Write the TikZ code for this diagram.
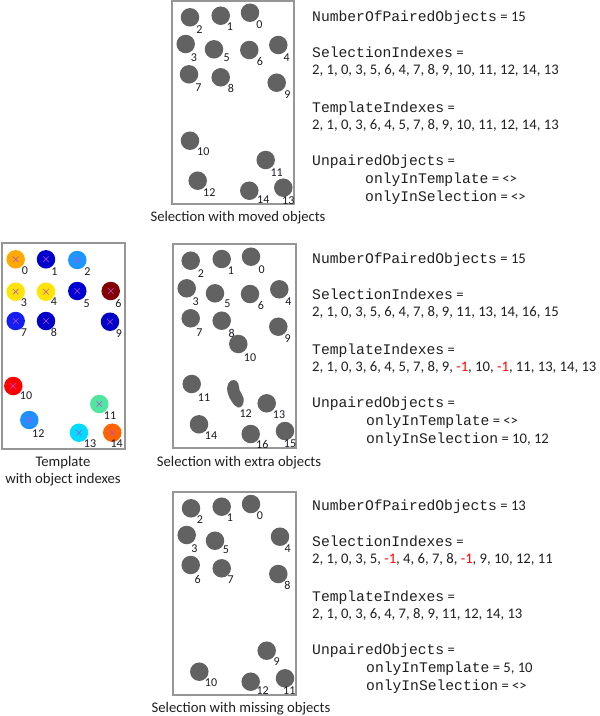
\documentclass[tikz,border=0pt]{standalone}
\usepackage{fontspec}
\setmainfont{Carlito}
\newfontfamily\monof{Liberation Mono}
\usetikzlibrary{shapes.misc}
\definecolor{objgray}{RGB}{98,98,98}
\definecolor{boxgray}{RGB}{150,150,150}
\definecolor{lblcol}{RGB}{25,25,35}
\definecolor{xmarkc}{RGB}{185,75,215}
\definecolor{c0}{RGB}{255,170,0}
\definecolor{c1}{RGB}{0,0,205}
\definecolor{c2}{RGB}{30,150,255}
\definecolor{c3}{RGB}{255,228,0}
\definecolor{c4}{RGB}{255,228,0}
\definecolor{c5}{RGB}{0,0,210}
\definecolor{c6}{RGB}{130,0,0}
\definecolor{c7}{RGB}{20,30,240}
\definecolor{c8}{RGB}{0,0,200}
\definecolor{c9}{RGB}{0,0,200}
\definecolor{c10}{RGB}{255,0,0}
\definecolor{c11}{RGB}{80,230,160}
\definecolor{c12}{RGB}{30,144,255}
\definecolor{c13}{RGB}{0,220,255}
\definecolor{c14}{RGB}{255,100,0}
\definecolor{minus}{RGB}{255,0,0}
\tikzset{
  obj/.style={circle, fill=objgray, minimum size=18.5pt, inner sep=0pt},
  lbl/.style={font=\fontsize{12}{12}\selectfont, text=lblcol, inner sep=0pt},
  frame/.style={draw=boxgray, line width=1.3pt},
  txt/.style={anchor=base west, inner sep=0pt, text=black!88, font=\fontsize{14.67}{18}\selectfont},
  captext/.style={anchor=base, inner sep=0pt, text=black!88, font=\fontsize{14.67}{18}\selectfont},
  xmk/.style={cross out, draw=xmarkc, line width=0.6pt, minimum size=5pt, inner sep=0pt}
}
\newcommand{\redneg}{\textcolor{minus}{-1}}
\begin{document}
\begin{tikzpicture}[x=1pt, y=-1pt]
\useasboundingbox (0,0) rectangle (600,716);

% frames
\draw[frame] (172,1) rectangle (294,204);
\draw[frame] (2,243) rectangle (125,449);
\draw[frame] (173,244) rectangle (296,448);
\draw[frame] (173,492) rectangle (296,695);

% captions
\node[captext] (capA) at (238,221.5) {Selection with moved objects};
\node[captext] (capT1) at (63,466.5) {Template};
\node[captext] (capT2) at (63,483.5) {with object indexes};
\node[captext] (capB) at (239,466) {Selection with extra objects};
\node[captext] (capC) at (241,712) {Selection with missing objects};

% template objects
\foreach \n/\x/\y/\lx/\ly in {0/15.7/259.3/25/270.7, 1/46/259.3/54.3/271.7, 2/77.3/260/87.3/271.7,
  3/15.7/291.7/24/302.7, 4/46/291.7/54/301.7, 5/77.3/291/86.7/303.3, 6/110.7/291/118.3/303.3,
  7/15.7/321/24/332.7, 8/46/321/54/332.7, 9/110/321.7/119/334, 10/13.3/386/26/396,
  11/99.3/404/110/415.7, 12/29.3/420/38.3/433.3, 13/79/432.7/90/443.3, 14/112.3/432.7/116.7/443.3}{
  \node[obj, fill=c\n] (t\n) at (\x,\y) {};
  \node[xmk] (tx\n) at (t\n) {};
  \node[lbl] (tl\n) at (\lx,\ly) {\n};
}

% selection with moved objects
\foreach \n/\x/\y/\lx/\ly in {2/190/17.3/199.3/29.3, 1/220.7/15.7/230/26.7, 0/250/12.7/259.3/25,
  3/185.7/44/194/57.3, 5/214/49.3/226.7/57.3, 6/249.3/50/260/61.7, 4/278.3/45/286.7/57.3,
  7/189/74.3/198.3/87.3, 8/220.7/77.3/231/88.3, 9/276.7/82.7/287.3/94.3, 10/190/140.7/203.3/151.7,
  11/265.7/160/276.7/172.3, 12/197.7/180.7/209.3/192.7, 14/249.3/190.7/263.3/200, 13/283.3/187.7/288.3/200.7}{
  \node[obj] (a\n) at (\x,\y) {};
  \node[lbl] (al\n) at (\lx,\ly) {\n};
}

% selection with extra objects
\foreach \n/\x/\y/\lx/\ly in {2/190.7/260.7/201/274, 1/221.7/259/231/271, 0/251/256.7/261.7/270,
  3/186.7/288.3/195.7/301.7, 5/215/293.3/227.3/304, 6/250/294/261/305.7, 4/279.3/289.3/288.3/301.7,
  7/190.7/318.3/199.3/332.3, 8/221.7/320.7/231.7/333.3, 9/278.3/326.7/287.7/339, 10/238.3/344/250/357.3,
  11/191.7/384/204/397.3, 13/266.7/403.3/279/415, 14/199/424.3/211/435.7, 16/250.7/434/262.3/444.3,
  15/285/431/290/444}{
  \node[obj] (b\n) at (\x,\y) {};
  \node[lbl] (bl\n) at (\lx,\ly) {\n};
}
\fill[objgray] plot[smooth cycle, tension=0.7] coordinates {(234,380) (238.3,383.5) (239.5,390) (243.5,398) (242.5,405) (238,407.5) (232,402) (227.5,392) (228.5,383)};
\node[lbl] (bl12) at (245.7,413.3) {12};

% selection with missing objects
\foreach \n/\x/\y/\lx/\ly in {2/191/508.3/200/520, 1/221.7/506.7/230/517.3, 0/251/504/260/516,
  3/186.7/535/194.3/548.3, 5/215/540.7/226/550, 4/280/536.7/287.7/548.3, 6/190.7/565/197.7/579,
  7/221.7/568.3/230.7/579.3, 8/278.3/574/287.3/585, 9/266.7/650.7/276.7/661.7, 10/199.3/671.7/211/682.7,
  12/250.7/681.7/262.7/690.7, 11/285/678.3/289.3/690.7}{
  \node[obj] (c\n) at (\x,\y) {};
  \node[lbl] (cl\n) at (\lx,\ly) {\n};
}

% text panel A
\node[txt] (pa1) at (312,21.5) {{\monof NumberOfPairedObjects} = 15};
\node[txt] (pa2) at (312,57.5) {{\monof SelectionIndexes} =};
\node[txt] (pa3) at (312,74.5) {2, 1, 0, 3, 5, 6, 4, 7, 8, 9, 10, 11, 12, 14, 13};
\node[txt] (pa4) at (312,112.5) {{\monof TemplateIndexes} =};
\node[txt] (pa5) at (312,129.5) {2, 1, 0, 3, 6, 4, 5, 7, 8, 9, 10, 11, 12, 14, 13};
\node[txt] (pa6) at (312,165.5) {{\monof UnpairedObjects} =};
\node[txt] (pa7) at (365,183.5) {{\monof onlyInTemplate} = <>};
\node[txt] (pa8) at (365,201.5) {{\monof onlyInSelection} = <>};

% text panel B
\node[txt] (pb1) at (312,263.5) {{\monof NumberOfPairedObjects} = 15};
\node[txt] (pb2) at (312,299.5) {{\monof SelectionIndexes} =};
\node[txt] (pb3) at (312,316.5) {2, 1, 0, 3, 5, 6, 4, 7, 8, 9, 11, 13, 14, 16, 15};
\node[txt] (pb4) at (312,354.5) {{\monof TemplateIndexes} =};
\node[txt] (pb5) at (312,371.5) {2, 1, 0, 3, 6, 4, 5, 7, 8, 9, \redneg, 10, \redneg, 11, 13, 14, 13};
\node[txt] (pb6) at (312,407.5) {{\monof UnpairedObjects} =};
\node[txt] (pb7) at (366,425.5) {{\monof onlyInTemplate} = <>};
\node[txt] (pb8) at (366,443.5) {{\monof onlyInSelection} = 10, 12};

% text panel C
\node[txt] (pc1) at (312,510.5) {{\monof NumberOfPairedObjects} = 13};
\node[txt] (pc2) at (312,546.5) {{\monof SelectionIndexes} =};
\node[txt] (pc3) at (312,563.5) {2, 1, 0, 3, 5, \redneg, 4, 6, 7, 8, \redneg, 9, 10, 12, 11};
\node[txt] (pc4) at (312,601.5) {{\monof TemplateIndexes} =};
\node[txt] (pc5) at (312,618.5) {2, 1, 0, 3, 6, 4, 7, 8, 9, 11, 12, 14, 13};
\node[txt] (pc6) at (312,654.5) {{\monof UnpairedObjects} =};
\node[txt] (pc7) at (366,672.5) {{\monof onlyInTemplate} = 5, 10};
\node[txt] (pc8) at (366,690.5) {{\monof onlyInSelection} = <>};
\end{tikzpicture}
\end{document}
